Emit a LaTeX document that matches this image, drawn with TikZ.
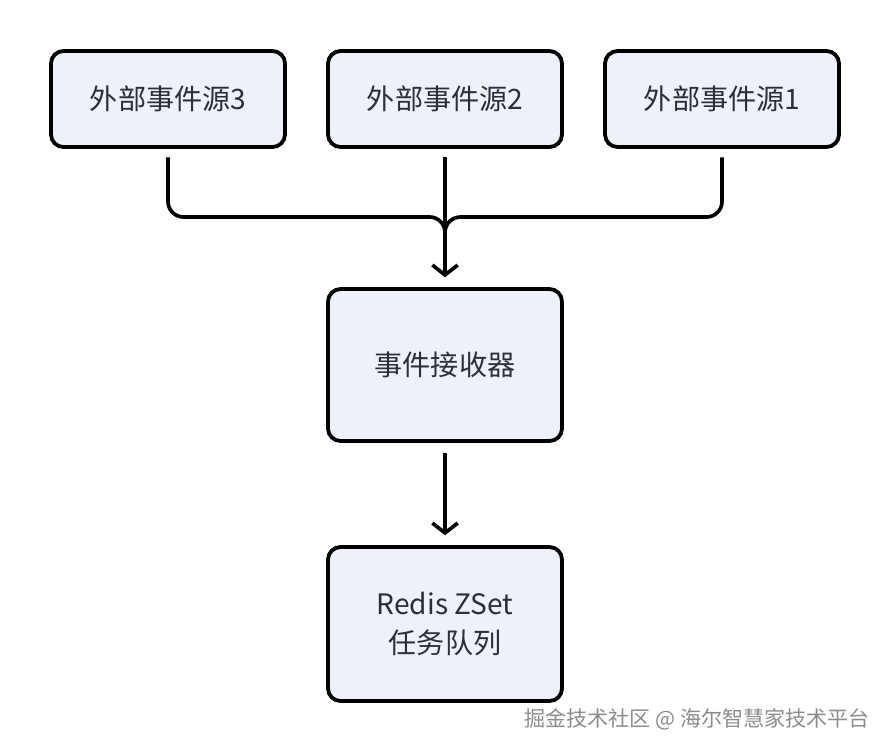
\documentclass[tikz,border=0pt]{standalone}
\usepackage{fontspec}
\setmainfont{Noto Sans}
\newfontfamily\cjk{Noto Sans CJK SC}
\usetikzlibrary{
    arrows.meta,
    calc,
    positioning
}
\definecolor{boxfill}{HTML}{EEF1F8}
\definecolor{ink}{HTML}{2B2F36}

\begin{document}
\begin{tikzpicture}[x=0.025cm, y=-0.025cm,
    stage/.style={draw=black, line width=2.7pt, fill=boxfill, rounded corners=9pt,
        minimum width=5.85cm, align=center, text=ink, font=\cjk\fontsize{20}{28}\selectfont},
    link/.style={line width=2.6pt, rounded corners=11pt},
    tip/.style={-{Straight Barb[length=7pt, width=18pt, line width=2.6pt]}}
]
                        \useasboundingbox (0, 0) rectangle (891, 752);
                        \node[stage, minimum height=2.4cm] (src3) at (168, 99) {外部事件源3};
                        \node[stage, minimum height=2.4cm] (src2) at (445, 99) {外部事件源2};
                        \node[stage, minimum height=2.4cm] (src1) at (722, 99) {外部事件源1};
                        \node[stage, minimum height=3.8cm] (recv) at (445, 365) {事件接收器};
                        \node[stage, minimum height=3.85cm] (zset) at (445, 624) {Redis ZSet\\任务队列};
                        \coordinate (join) at (445, 217);
                        \draw[link, shorten <=6pt] (src3.south) |- (join) -- ($(join)!0.5!(recv.north)$);
                        \draw[link, shorten <=6pt] (src1.south) |- (join) -- ($(join)!0.5!(recv.north)$);
                        \draw[link, tip, shorten <=6pt, shorten >=7pt] (src2.south) -- (recv.north);
                        \draw[link, tip, shorten <=7pt, shorten >=7pt] (recv.south) -- (zset.north);
                        \node[text=black!45, font=\cjk\fontsize{15}{18}\selectfont] (mark) at (697, 719) {掘金技术社区 @ 海尔智慧家技术平台};
                    \end{tikzpicture}
\end{document}
